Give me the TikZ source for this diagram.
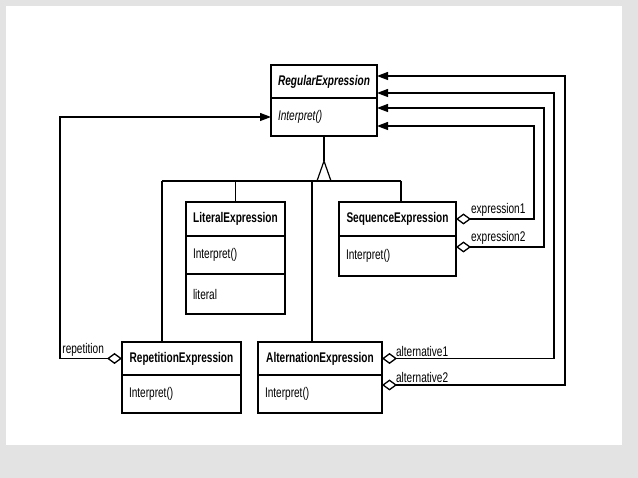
\documentclass[tikz,border=0pt]{standalone}
\usepackage{fontspec}
\setmainfont{Liberation Sans}[FakeStretch=0.72]
\usetikzlibrary{positioning,arrows.meta}

\begin{document}
\begin{tikzpicture}[
    x=1pt, y=-1pt,
    font=\fontsize{14}{16}\selectfont,
    namebox/.style={draw, line width=1.6pt, outer sep=0pt, inner sep=0pt, anchor=north west,
        minimum width=#1, minimum height=33pt, font=\fontsize{14}{16}\selectfont\bfseries},
    opbox/.style={draw, line width=1.6pt, outer sep=0pt, inner xsep=7pt, inner ysep=0pt,
        text width=#1, minimum height=38pt, align=left},
    link/.style={line width=1.2pt},
    assoc/.style={line width=1.2pt,
        {Diamond[open, length=15pt, width=11pt, line width=1.3pt]}-{Triangle[length=11pt, width=8pt]}},
    lbl/.style={inner sep=1.5pt, font=\fontsize{14}{16}\selectfont}
]
\useasboundingbox (0,0) rectangle (638,478);
\fill[gray!22] (0,0) rectangle (638,478);
\fill[white] (6,6) rectangle (622,445);

% classes
\node[namebox=106pt, font=\fontsize{14}{16}\selectfont\bfseries\itshape] (regular) at (271,65) {RegularExpression};
\node[opbox=92pt, below=0pt of regular, font=\fontsize{14}{16}\selectfont\itshape] (regularops) {Interpret()};

\node[namebox=99pt, minimum height=34pt] (literal) at (186,202) {LiteralExpression};
\node[opbox=85pt, below=0pt of literal] (literalops) {Interpret()};
\node[opbox=85pt, below=0pt of literalops, minimum height=40pt] (literalattr) {literal};

\node[namebox=117pt, minimum height=34pt] (sequence) at (339,202) {SequenceExpression};
\node[opbox=103pt, below=0pt of sequence, minimum height=40pt] (sequenceops) {Interpret()};

\node[namebox=119pt] (repetition) at (122,342) {RepetitionExpression};
\node[opbox=105pt, below=0pt of repetition] (repetitionops) {Interpret()};

\node[namebox=124pt] (alternation) at (258,342) {AlternationExpression};
\node[opbox=110pt, below=0pt of alternation] (alternationops) {Interpret()};

% inheritance
\coordinate[below=25pt of regularops.south] (apex);
\coordinate[below=20pt of apex] (base);
\coordinate (barL) at (162,181);
\coordinate (barM) at (312,181);
\coordinate (barR) at (401,181);
\draw[link] (regularops.south) -- (apex);
\draw[link] (apex) -- ([xshift=-7pt]base) -- ([xshift=7pt]base) -- cycle;
\draw[link] (barL) -- (barR);
\draw[link] (barL) -- (barL |- repetition.north);
\draw[link] (literal.north) -- (literal.north |- barL);
\draw[link] (barM) -- (barM |- alternation.north);
\draw[link] (barR) -- (barR |- sequence.north);

% aggregations
\draw[assoc] (repetition.west) -- ++(-62,0)
    node[lbl, pos=0, anchor=south east, xshift=-16pt] {repetition}
    |- (regularops.west);
\draw[assoc] (alternation.east) -- ++(172,0)
    node[lbl, pos=0, anchor=south west, xshift=12pt] {alternative1}
    |- ([yshift=-28pt]regular.north east);
\draw[assoc] ([yshift=-10pt]alternationops.north east) -- ++(183,0)
    node[lbl, pos=0, anchor=south west, xshift=12pt] {alternative2}
    |- ([yshift=-11pt]regular.north east);
\draw[assoc] (sequence.east) -- ++(78,0)
    node[lbl, pos=0, anchor=south west, xshift=13pt] {expression1}
    |- ([yshift=-28pt]regularops.north east);
\draw[assoc] ([yshift=-11pt]sequenceops.north east) -- ++(88,0)
    node[lbl, pos=0, anchor=south west, xshift=13pt] {expression2}
    |- ([yshift=-10pt]regularops.north east);

\end{tikzpicture}
\end{document}
